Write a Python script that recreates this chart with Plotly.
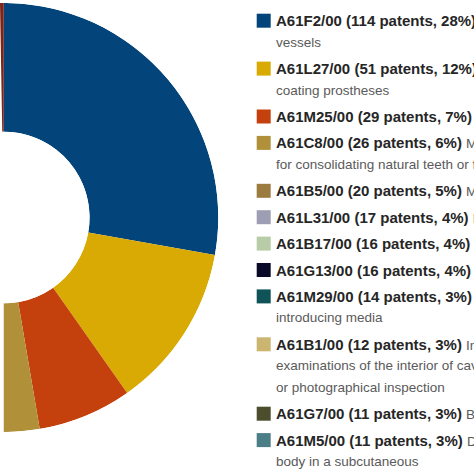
import numpy as np
import plotly.graph_objects as go

# ---------------- data ----------------
codes = ["A61F2/00", "A61L27/00", "A61M25/00", "A61C8/00", "A61B5/00", "A61L31/00",
         "A61B17/00", "A61G13/00", "A61M29/00", "A61B1/00", "A61G7/00", "A61M5/00", "Others"]
patents = [114, 51, 29, 26, 20, 17, 16, 16, 14, 12, 11, 11, 73]
descriptions = [
    ["Filters implantable into blood", "vessels"],
    ["Materials for prostheses or for", "coating prostheses"],
    ["Catheters; Hollow probes"],
    ["Means to be fixed to the jaw-bone", "for consolidating natural teeth or for fixing dental prostheses thereon"],
    ["Measuring for diagnostic purposes; Identification of persons"],
    ["Materials for other surgical articles"],
    ["Surgical instruments, devices or methods"],
    ["Operating tables; Auxiliary appliances therefor"],
    ["Dilators with or without means for", "introducing media"],
    ["Instruments for performing medical",
     "examinations of the interior of cavities or tubes of the body by visual",
     "or photographical inspection"],
    ["Beds specially adapted for nursing; Devices for lifting patients"],
    ["Devices for bringing media into the", "body in a subcutaneous"],
    ["Other classes"],
]
colors = ["#03457A", "#D8AA03", "#C4410E", "#B0913A", "#9C7B3E", "#9D9DB3",
          "#B8CCA8", "#0A0A28", "#0F5257", "#CBB571", "#4B4D2C", "#4C7E87", "#7B2418"]
legend_count = 12  # entries visible in the legend column

# ---------------- donut ----------------
total = sum(patents)
widths = np.array(patents) / total * 360.0
starts = np.concatenate([[0.0], np.cumsum(widths)[:-1]])
mids = starts + widths / 2.0

fig = go.Figure()
fig.add_trace(go.Barpolar(
    r=[1] * len(patents), theta=mids, width=widths,
    marker=dict(color=colors, line=dict(width=0)),
    text=codes, hoverinfo="text", showlegend=False,
))

# ---------------- legend (squares + text) ----------------
TOP, LINE, STEP = 20.7, 21.5, 26.4
SQ_X, TXT_X = 263.7, 273.5
first_y, y = [], TOP
for i in range(legend_count):
    first_y.append(y)
    y += STEP + LINE * (len(descriptions[i]) - 1)

fig.add_trace(go.Scatter(
    x=[SQ_X] * legend_count, y=first_y, mode="markers",
    marker=dict(symbol="square", size=14, color=colors[:legend_count], line=dict(width=0)),
    hoverinfo="skip", showlegend=False, xaxis="x", yaxis="y",
))

annotations = []
for i in range(legend_count):
    pct = round(patents[i] / total * 100)
    head = f"<b>{codes[i]} ({patents[i]} patents, {pct}%)</b>"
    txt = head + f" <span style='font-size:13.5px;color:#5a5a5a'>{descriptions[i][0]}</span>"
    annotations.append(dict(x=TXT_X, y=first_y[i], xref="x", yref="y", text=txt,
                            showarrow=False, xanchor="left", yanchor="middle", align="left",
                            font=dict(size=15, color="#262626",
                                      family="Liberation Sans, Arial, sans-serif")))
    for k, extra in enumerate(descriptions[i][1:], start=1):
        annotations.append(dict(x=TXT_X, y=first_y[i] + LINE * k, xref="x", yref="y",
                                text=extra, showarrow=False, xanchor="left", yanchor="middle",
                                align="left",
                                font=dict(size=13.5, color="#5a5a5a",
                                          family="Liberation Sans, Arial, sans-serif")))

fig.update_layout(
    width=474, height=474,
    margin=dict(l=0, r=0, t=0, b=0),
    paper_bgcolor="white", plot_bgcolor="rgba(0,0,0,0)",
    showlegend=False,
    polar=dict(
        domain=dict(x=[0, 0.4605], y=[0.0886, 0.9937]),
        sector=[-90, 91],
        hole=0.4,
        bgcolor="white",
        radialaxis=dict(visible=False, range=[0, 1], showgrid=False),
        angularaxis=dict(visible=False, rotation=90, direction="clockwise",
                         thetaunit="degrees", showgrid=False),
    ),
    xaxis=dict(range=[0, 474], visible=False, domain=[0, 1], fixedrange=True),
    yaxis=dict(range=[474, 0], visible=False, domain=[0, 1], fixedrange=True),
    annotations=annotations,
    font=dict(family="Liberation Sans, Arial, sans-serif"),
)

fig.write_html("out.html")
